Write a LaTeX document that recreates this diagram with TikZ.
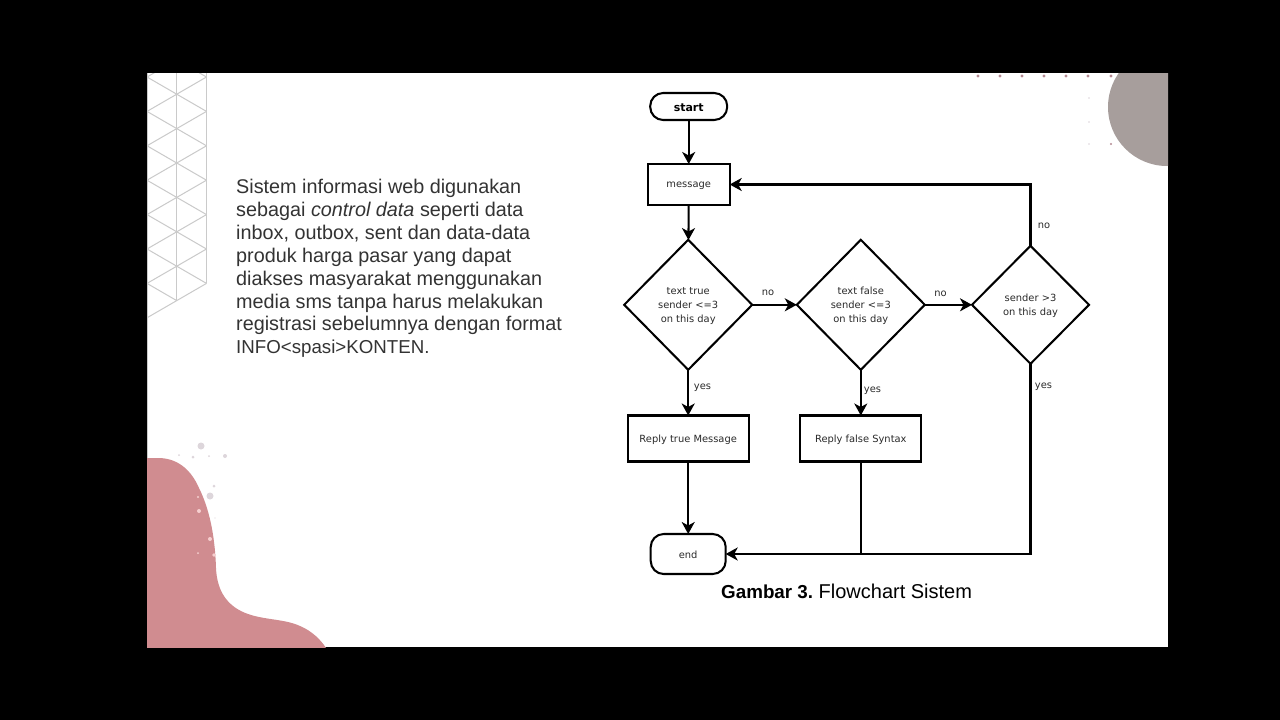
\documentclass[tikz,border=0pt]{standalone}
\usepackage{fontspec}
\setmainfont{Liberation Sans}
\newfontfamily\chartfont{DejaVu Sans}
\usetikzlibrary{shapes.geometric,arrows.meta}
\definecolor{blob}{HTML}{D08C90}
\definecolor{disc}{HTML}{A79E9C}
\definecolor{lattice}{HTML}{CACACA}
\definecolor{ink}{HTML}{333333}
\definecolor{chartink}{HTML}{2A2A2A}
\definecolor{speck}{HTML}{DDD6DB}
\definecolor{pinkspeck}{HTML}{F6CFCF}
\definecolor{topspeck}{HTML}{B58A92}
\newcommand{\dropln}[1]{\raisebox{-1.2pt}[\height][\depth]{#1}}
\tikzset{
  x=1pt,y=-1pt,
  flowline/.style={line width=2.05pt,draw=black},
  conn/.style={flowline,-{Stealth[length=12pt,width=13pt,inset=3.5pt]}},
  chartnode/.style={flowline,fill=white,inner sep=0pt,outer sep=0pt,align=center,text=chartink,font=\chartfont\fontsize{9.9}{14}\selectfont},
  terminal/.style={chartnode,rectangle,rounded corners=13pt},
  procbox/.style={chartnode,rectangle},
  decision/.style={chartnode,diamond,aspect=1},
  edgelabel/.style={text=chartink,inner sep=0pt,font=\chartfont\fontsize{9.9}{12}\selectfont},
}
\begin{document}
\begin{tikzpicture}
\useasboundingbox (0,0) rectangle (1280,720);
\fill[black] (0,0) rectangle (1280,720);
\fill[white] (147,73) rectangle (1168,647);
\begin{scope}
\clip (147,73) rectangle (1168,647);
% lattice
\draw[lattice,line width=1.2pt] (147.5,73) -- (147.5,647);
\draw[lattice,line width=1.2pt] (176.7,73) -- (176.7,300.6);
\draw[lattice,line width=1.2pt] (206.5,73) -- (206.5,283.4);
\foreach \k in {-1,...,5}{
  \pgfmathsetmacro{\ya}{77+34.4*\k}
  \pgfmathsetmacro{\yc}{\ya+34.4}
  \draw[lattice,line width=1pt] (147,\ya) -- (206.5,\yc);
}
\foreach \k in {-1,...,6}{
  \pgfmathsetmacro{\ya}{77+34.4*\k}
  \pgfmathsetmacro{\yc}{\ya+34.4}
  \draw[lattice,line width=1pt] (147,\yc) -- (206.5,\ya);
}
\draw[lattice,line width=1pt] (147,283.4) -- (176.7,300.6);
% grey disc and specks
\fill[disc] (1167,107) circle (59);
\foreach \x in {978,1000,1022,1044,1066,1088,1111}
  \fill[topspeck] (\x,76) circle (1.6);
\fill[topspeck] (1111,144) circle (1.2);
\fill[speck] (1089,98) circle (.8) (1089,122) circle (.8) (1089,144) circle (.8);
% pink blob
\fill[blob] (147,458) -- (160,458)
  .. controls (180,459) and (192,472) .. (199,488)
  .. controls (209,508) and (215,535) .. (216,568)
  .. controls (217,592) and (228,607) .. (248,614)
  .. controls (265,620) and (285,619) .. (300,626)
  .. controls (312,631) and (321,640) .. (326,648)
  -- (147,648) -- cycle;
\fill[speck] (201,446) circle (3.5) (225,456) circle (2) (193,457) circle (1.5)
  (179,455) circle (1) (209,456) circle (1) (214,486) circle (1.5)
  (210,496) circle (3.5) (215,518) circle (.7);
\fill[pinkspeck] (198,497) circle (1.2) (199,511) circle (2) (210,539) circle (2)
  (198,553) circle (1) (214,555) circle (1.8);
\end{scope}
% body text
\node[anchor=north west,inner sep=0pt,align=left,text=ink,font=\fontsize{19.8}{22.85}\selectfont] (body) at (236,179.3)
{Sistem informasi web digunakan\\
sebagai \textit{control data} seperti data\\
inbox, outbox, sent dan data-data\\
produk harga pasar yang dapat\\
diakses masyarakat menggunakan\\
media sms tanpa harus melakukan\\
registrasi sebelumnya dengan format\\
{\fontsize{18.7}{22.85}\selectfont INFO<spasi>KONTEN.}};
% flowchart nodes
\node[terminal,minimum width=77pt,minimum height=27pt,font=\chartfont\bfseries\fontsize{11}{14}\selectfont,text=black] (start) at (688.7,106.5) {\dropln{start}};
\node[procbox,minimum width=82pt,minimum height=41pt] (message) at (688.7,184.5) {\dropln{message}};
\node[decision,minimum width=128pt,minimum height=130pt] (d1) at (688.2,304.8) {\dropln{text true}\\\dropln{sender <=3}\\\dropln{on this day}};
\node[decision,minimum width=128pt,minimum height=130pt] (d2) at (860.8,304.8) {\dropln{text false}\\\dropln{sender <=3}\\\dropln{on this day}};
\node[decision,minimum width=117pt,minimum height=118pt] (d3) at (1030.5,304.8) {\dropln{sender >3}\\\dropln{on this day}};
\node[procbox,minimum width=121pt,minimum height=46pt] (rt) at (688.2,438.5) {\dropln{Reply true Message}};
\node[procbox,minimum width=121pt,minimum height=46pt] (rf) at (860.8,438.5) {\dropln{Reply false Syntax}};
\node[terminal,minimum width=75pt,minimum height=40pt] (end) at (688.2,554) {\dropln{end}};
\coordinate (join) at (rf.south |- end.east);
% connectors
\draw[conn] (start) -- (message);
\draw[conn] (message) -- (d1);
\draw[conn] (d1) -- (d2);
\draw[conn] (d2) -- (d3);
\draw[conn] (d1) -- (rt);
\draw[conn] (d2) -- (rf);
\draw[conn] (rt) -- (end);
\draw[conn] (d3.north) |- (message.east);
\draw[conn] (d3.south) |- (end.east);
\draw[flowline] (rf.south) -- (join);
% labels
\node[edgelabel] (no1) at (768,293) {no};
\node[edgelabel] (no2) at (940.5,294) {no};
\node[edgelabel] (no3) at (1044,226) {no};
\node[edgelabel] (yes1) at (702.5,388) {yes};
\node[edgelabel] (yes2) at (872.5,390.5) {yes};
\node[edgelabel] (yes3) at (1043.5,386.5) {yes};
% caption
\node[anchor=base west,inner sep=0pt,text=black,font=\fontsize{20}{22}\selectfont] (caption) at (721,598.5) {{\fontsize{18.8}{22}\selectfont\textbf{Gambar 3.}}\hspace{5.5pt}Flowchart Sistem};
\end{tikzpicture}
\end{document}
